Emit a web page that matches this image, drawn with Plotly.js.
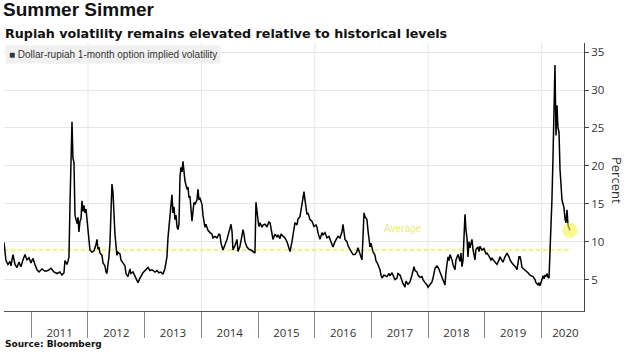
<!DOCTYPE html>
<html>
<head>
<meta charset="utf-8">
<script src="https://cdn.plot.ly/plotly-3.0.1.min.js"></script>
<style>
html,body{margin:0;padding:0;background:#fff;}
#chart{width:627px;height:354px;}
</style>
</head>
<body>
<div id="chart"></div>
<script>
// Time in decimal years, value in percent
const years = [
2010.519,2010.536,2010.554,2010.589,2010.624,2010.642,2010.677,2010.713,2010.748,2010.783,2010.818,2010.854,2010.889,2010.924,2010.959,2010.995,
2011.030,2011.065,2011.101,2011.136,2011.189,2011.242,2011.295,2011.347,2011.400,2011.453,2011.506,2011.541,2011.577,2011.594,2011.630,2011.647,2011.665,2011.683,2011.700,2011.718,2011.735,2011.753,2011.771,2011.788,2011.806,2011.824,2011.841,2011.859,2011.877,2011.894,2011.912,2011.929,2011.947,2011.965,2011.982,
2012.000,2012.018,2012.035,2012.071,2012.106,2012.141,2012.159,2012.176,2012.194,2012.212,2012.247,2012.265,2012.300,2012.317,2012.335,2012.353,2012.370,2012.388,2012.406,2012.423,2012.441,2012.459,2012.476,2012.494,2012.511,2012.529,2012.564,2012.582,2012.617,2012.653,2012.670,2012.705,2012.741,2012.758,2012.794,2012.829,2012.864,2012.882,2012.917,2012.952,2012.970,
2013.058,2013.093,2013.129,2013.182,2013.217,2013.252,2013.287,2013.323,2013.358,2013.393,2013.411,2013.446,2013.464,2013.481,2013.499,2013.517,2013.534,2013.552,2013.570,2013.587,2013.605,2013.623,2013.640,2013.658,2013.675,2013.693,2013.711,2013.728,2013.746,2013.764,2013.781,2013.799,2013.817,2013.834,2013.852,2013.870,2013.887,2013.905,2013.922,2013.940,2013.958,2013.975,
2014.011,2014.028,2014.046,2014.063,2014.081,2014.116,2014.152,2014.187,2014.205,2014.240,2014.275,2014.310,2014.328,2014.346,2014.381,2014.416,2014.451,2014.487,2014.522,2014.540,2014.557,2014.593,2014.628,2014.646,2014.681,2014.716,2014.734,2014.751,2014.769,2014.804,2014.840,2014.875,2014.910,2014.945,2014.963,2014.981,2014.998,
2015.016,2015.034,2015.069,2015.086,2015.122,2015.157,2015.192,2015.210,2015.228,2015.263,2015.298,2015.333,2015.351,2015.386,2015.404,2015.439,2015.474,2015.510,2015.545,2015.563,2015.598,2015.633,2015.651,2015.686,2015.704,2015.739,2015.774,2015.810,2015.827,2015.845,2015.863,2015.880,2015.916,2015.951,2015.986,
2016.021,2016.039,2016.056,2016.092,2016.127,2016.145,2016.180,2016.215,2016.250,2016.268,2016.303,2016.321,2016.356,2016.392,2016.409,2016.444,2016.480,2016.497,2016.515,2016.533,2016.568,2016.586,2016.621,2016.656,2016.674,2016.709,2016.744,2016.762,2016.797,2016.815,2016.832,2016.850,2016.868,2016.885,2016.903,2016.921,2016.938,2016.956,2016.974,2016.991,
2017.026,2017.062,2017.079,2017.115,2017.150,2017.168,2017.185,2017.220,2017.256,2017.273,2017.309,2017.326,2017.362,2017.397,2017.414,2017.450,2017.467,2017.503,2017.520,2017.556,2017.591,2017.608,2017.644,2017.679,2017.714,2017.750,2017.767,2017.802,2017.820,2017.855,2017.891,2017.908,2017.944,2017.979,2017.996,
2018.032,2018.067,2018.085,2018.120,2018.155,2018.190,2018.208,2018.243,2018.279,2018.296,2018.314,2018.349,2018.367,2018.384,2018.420,2018.437,2018.473,2018.490,2018.526,2018.561,2018.578,2018.596,2018.614,2018.631,2018.649,2018.667,2018.684,2018.702,2018.720,2018.737,2018.772,2018.790,2018.825,2018.843,2018.878,2018.896,2018.914,2018.949,2018.984,
2019.019,2019.037,2019.072,2019.108,2019.125,2019.160,2019.196,2019.213,2019.249,2019.266,2019.302,2019.319,2019.355,2019.390,2019.425,2019.443,2019.478,2019.513,2019.549,2019.566,2019.584,2019.601,2019.619,2019.637,2019.654,2019.672,2019.707,2019.743,2019.760,2019.795,2019.831,2019.848,2019.884,2019.901,2019.937,2019.954,2019.972,2019.989,
2020.007,2020.025,2020.042,2020.060,2020.078,2020.095,2020.113,2020.131,2020.148,2020.166,2020.183,2020.201,2020.219,2020.236,2020.254,2020.272,2020.289,2020.307,2020.325,2020.342,2020.360,2020.377,2020.395,2020.413,2020.430,2020.448,2020.466,2020.483,2020.501
];
const vol = [
9.9,8.5,7.5,7.0,7.4,6.8,8.3,7.0,6.6,7.3,6.7,7.6,8.3,7.6,7.9,7.2,
7.8,7.0,6.3,6.0,6.4,6.1,6.2,6.5,6.0,5.8,6.0,5.6,5.9,7.5,7.0,7.4,8.0,15.0,20.0,25.8,21.0,20.5,13.5,13.0,12.4,13.2,11.3,12.7,13.0,15.4,14.0,14.8,13.8,14.3,13.0,
12.3,10.5,8.9,8.6,8.8,9.6,10.3,9.0,9.3,8.5,8.2,7.2,6.8,6.0,5.8,7.0,8.0,9.9,13.0,17.6,16.5,13.0,11.0,9.5,8.2,8.6,8.4,7.6,7.2,6.8,5.8,5.4,6.4,5.8,6.0,5.4,5.0,4.6,5.2,5.6,5.9,
6.6,6.2,6.3,6.0,6.2,5.9,6.0,5.7,6.5,8.0,10.5,13.3,14.5,16.2,13.8,14.6,12.9,13.5,12.0,11.6,12.3,18.6,19.8,19.2,20.6,19.0,18.0,17.5,16.9,17.2,15.8,16.0,14.0,12.7,14.0,15.2,14.9,15.3,15.5,16.9,15.5,15.8,
14.9,13.5,12.5,11.9,12.3,11.5,11.2,11.0,10.5,10.7,10.5,11.0,10.9,9.8,8.9,9.6,10.3,11.3,12.3,11.4,8.9,9.5,10.3,8.7,9.4,10.8,11.6,11.0,10.0,9.3,9.0,8.9,8.7,8.5,15.2,13.5,12.9,
12.0,12.5,11.9,12.2,12.3,12.0,12.6,12.5,11.8,10.3,11.0,10.6,10.9,10.4,11.0,10.7,10.5,10.0,9.2,8.7,10.0,11.5,12.5,12.2,13.0,13.3,15.0,16.6,15.5,14.0,13.6,13.8,12.9,12.7,12.0,
12.2,11.9,11.2,10.3,11.2,10.9,11.2,10.5,10.7,10.3,9.6,9.3,10.0,10.4,10.7,10.5,11.3,12.3,11.0,10.3,10.0,9.5,9.0,8.6,8.3,8.3,8.7,9.2,8.4,8.0,7.6,10.5,13.8,13.3,13.0,12.9,11.5,10.2,9.3,9.8,
8.7,8.2,7.5,7.0,6.3,5.6,5.2,5.6,5.4,5.4,5.8,5.5,5.9,5.4,5.0,5.2,5.8,5.6,5.2,4.5,4.0,4.8,4.4,4.7,5.6,6.7,6.2,6.0,5.6,5.3,5.4,5.0,4.6,4.3,4.0,
4.4,4.7,5.2,6.5,6.8,6.4,6.0,5.2,4.6,4.3,6.0,8.0,7.5,8.3,7.6,7.0,6.3,7.6,8.3,7.4,8.5,6.7,7.5,10.0,13.6,11.5,10.5,8.0,10.0,9.2,10.3,9.0,7.6,9.0,9.3,8.7,9.4,8.9,9.1,
8.4,8.5,8.1,7.6,7.8,7.5,7.2,7.0,7.6,8.0,7.5,7.3,8.0,8.5,8.0,7.6,7.2,6.9,6.6,6.3,7.0,8.0,8.0,7.5,6.6,6.5,6.2,6.0,5.9,5.6,5.5,5.4,5.0,4.6,4.3,4.6,4.2,4.8,
5.0,5.5,5.1,5.6,5.4,5.8,5.3,5.2,8.0,11.0,15.6,21.0,27.0,33.3,24.0,28.0,25.0,24.5,19.5,17.5,15.5,15.0,14.5,13.0,12.5,14.2,12.2,11.8,11.5
];
const averageValue = 8.9;
const yearLabels = ["2011","2012","2013","2014","2015","2016","2017","2018","2019","2020"];
const labelPositions = [2011.5,2012.5,2013.5,2014.5,2015.5,2016.5,2017.5,2018.5,2019.5,2020.42];
const yearStarts = [2011,2012,2013,2014,2015,2016,2017,2018,2019,2020];
const gridYears = [2012,2014,2016,2018,2020];
const xRange = [2010.519, 2020.748];
const yRange = [0.86, 36.2];

const FONT = "Liberation Sans, Arial, sans-serif";
const WIDE = "DejaVu Sans, Verdana, sans-serif";
const HUMAN = "Open Sans, Noto Sans, sans-serif";
const last = years.length - 1;

const traces = [
  {
    x: [years[0], years[last]],
    y: [averageValue, averageValue],
    mode: 'lines',
    line: {color: 'rgba(250,250,190,0.35)', width: 5},
    showlegend: false, hoverinfo: 'skip'
  },
  {
    x: [years[0], years[last]],
    y: [averageValue, averageValue],
    mode: 'lines',
    line: {color: 'rgba(236,234,110,0.85)', width: 1.4, dash: '4px,3px'},
    showlegend: false, hoverinfo: 'skip'
  },
  {
    x: years, y: vol,
    mode: 'lines',
    line: {color: '#000000', width: 1.5},
    name: 'Dollar-rupiah 1-month option implied volatility',
    showlegend: false
  },
  {
    x: [years[last]], y: [vol[last]],
    mode: 'markers',
    marker: {size: 15, color: 'rgba(248,244,70,0.6)'},
    showlegend: false, hoverinfo: 'skip'
  }
];

const shapes = gridYears.map(g => ({
  type: 'line', xref: 'x', yref: 'paper', x0: g, x1: g, y0: 0, y1: 1,
  line: {color: '#e6e6e6', width: 1}, layer: 'below'
}));

const layout = {
  width: 627, height: 354,
  margin: {l: 4, r: 43, t: 43, b: 43},
  paper_bgcolor: '#ffffff', plot_bgcolor: '#ffffff',
  font: {family: FONT, color: '#333'},
  title: {
    text: '<b>Summer Simmer</b>',
    xref: 'container', yref: 'container',
    x: 3/627, xanchor: 'left', y: 1 - 3/354, yanchor: 'top',
    font: {size: 19, color: '#111', family: FONT}
  },
  xaxis: {
    type: 'linear', range: xRange,
    tickmode: 'array', tickvals: labelPositions, ticktext: yearLabels,
    ticks: 'outside', ticklen: 11, tickcolor: 'rgba(0,0,0,0)',
    tickfont: {size: 11.5, color: '#333', family: HUMAN},
    showgrid: false, zeroline: false,
    showline: true, linecolor: '#555', linewidth: 1,
    minor: {tickmode: 'array', tickvals: yearStarts, ticks: 'outside', ticklen: 26, tickcolor: '#888', tickwidth: 1, showgrid: false}
  },
  yaxis: {
    side: 'right', range: yRange,
    tickmode: 'linear', tick0: 0, dtick: 5,
    ticks: 'outside', ticklen: 4, tickcolor: '#444',
    tickfont: {size: 11.5, color: '#333', family: HUMAN},
    showgrid: true, gridcolor: '#e6e6e6', gridwidth: 1,
    zeroline: false, showline: true, linecolor: '#444', linewidth: 1
  },
  shapes: shapes,
  annotations: [
    {
      text: '<b>Rupiah volatility remains elevated relative to historical levels</b>',
      xref: 'paper', yref: 'paper', x: -1/580, y: (311-33)/268,
      xanchor: 'left', yanchor: 'middle', showarrow: false,
      font: {size: 12.7, color: '#111', family: WIDE}
    },
    {
      text: '■ Dollar-rupiah 1-month option implied volatility',
      xref: 'paper', yref: 'paper', x: 0.002, y: (311-45)/268,
      xanchor: 'left', yanchor: 'top', showarrow: false,
      bgcolor: '#f0f0f0', borderpad: 3,
      font: {size: 10, color: '#333', family: FONT}
    },
    {
      text: 'Average',
      xref: 'x', yref: 'y', x: 2017.56, y: 11.7,
      xanchor: 'center', yanchor: 'middle', showarrow: false,
      font: {size: 10, color: '#eeeb70', family: FONT}
    },
    {
      text: 'Percent',
      xref: 'paper', yref: 'paper', x: (617-4)/580, y: (311-180)/268,
      xanchor: 'center', yanchor: 'middle', showarrow: false, textangle: 90,
      font: {size: 13, color: '#333', family: HUMAN}
    },
    {
      text: '<b>Source: Bloomberg</b>',
      xref: 'paper', yref: 'paper', x: -1/580, y: (311-344)/268,
      xanchor: 'left', yanchor: 'middle', showarrow: false,
      font: {size: 9, color: '#111', family: WIDE}
    }
  ]
};

Plotly.newPlot('chart', traces, layout, {displayModeBar: false, staticPlot: true});
</script>
</body>
</html>
